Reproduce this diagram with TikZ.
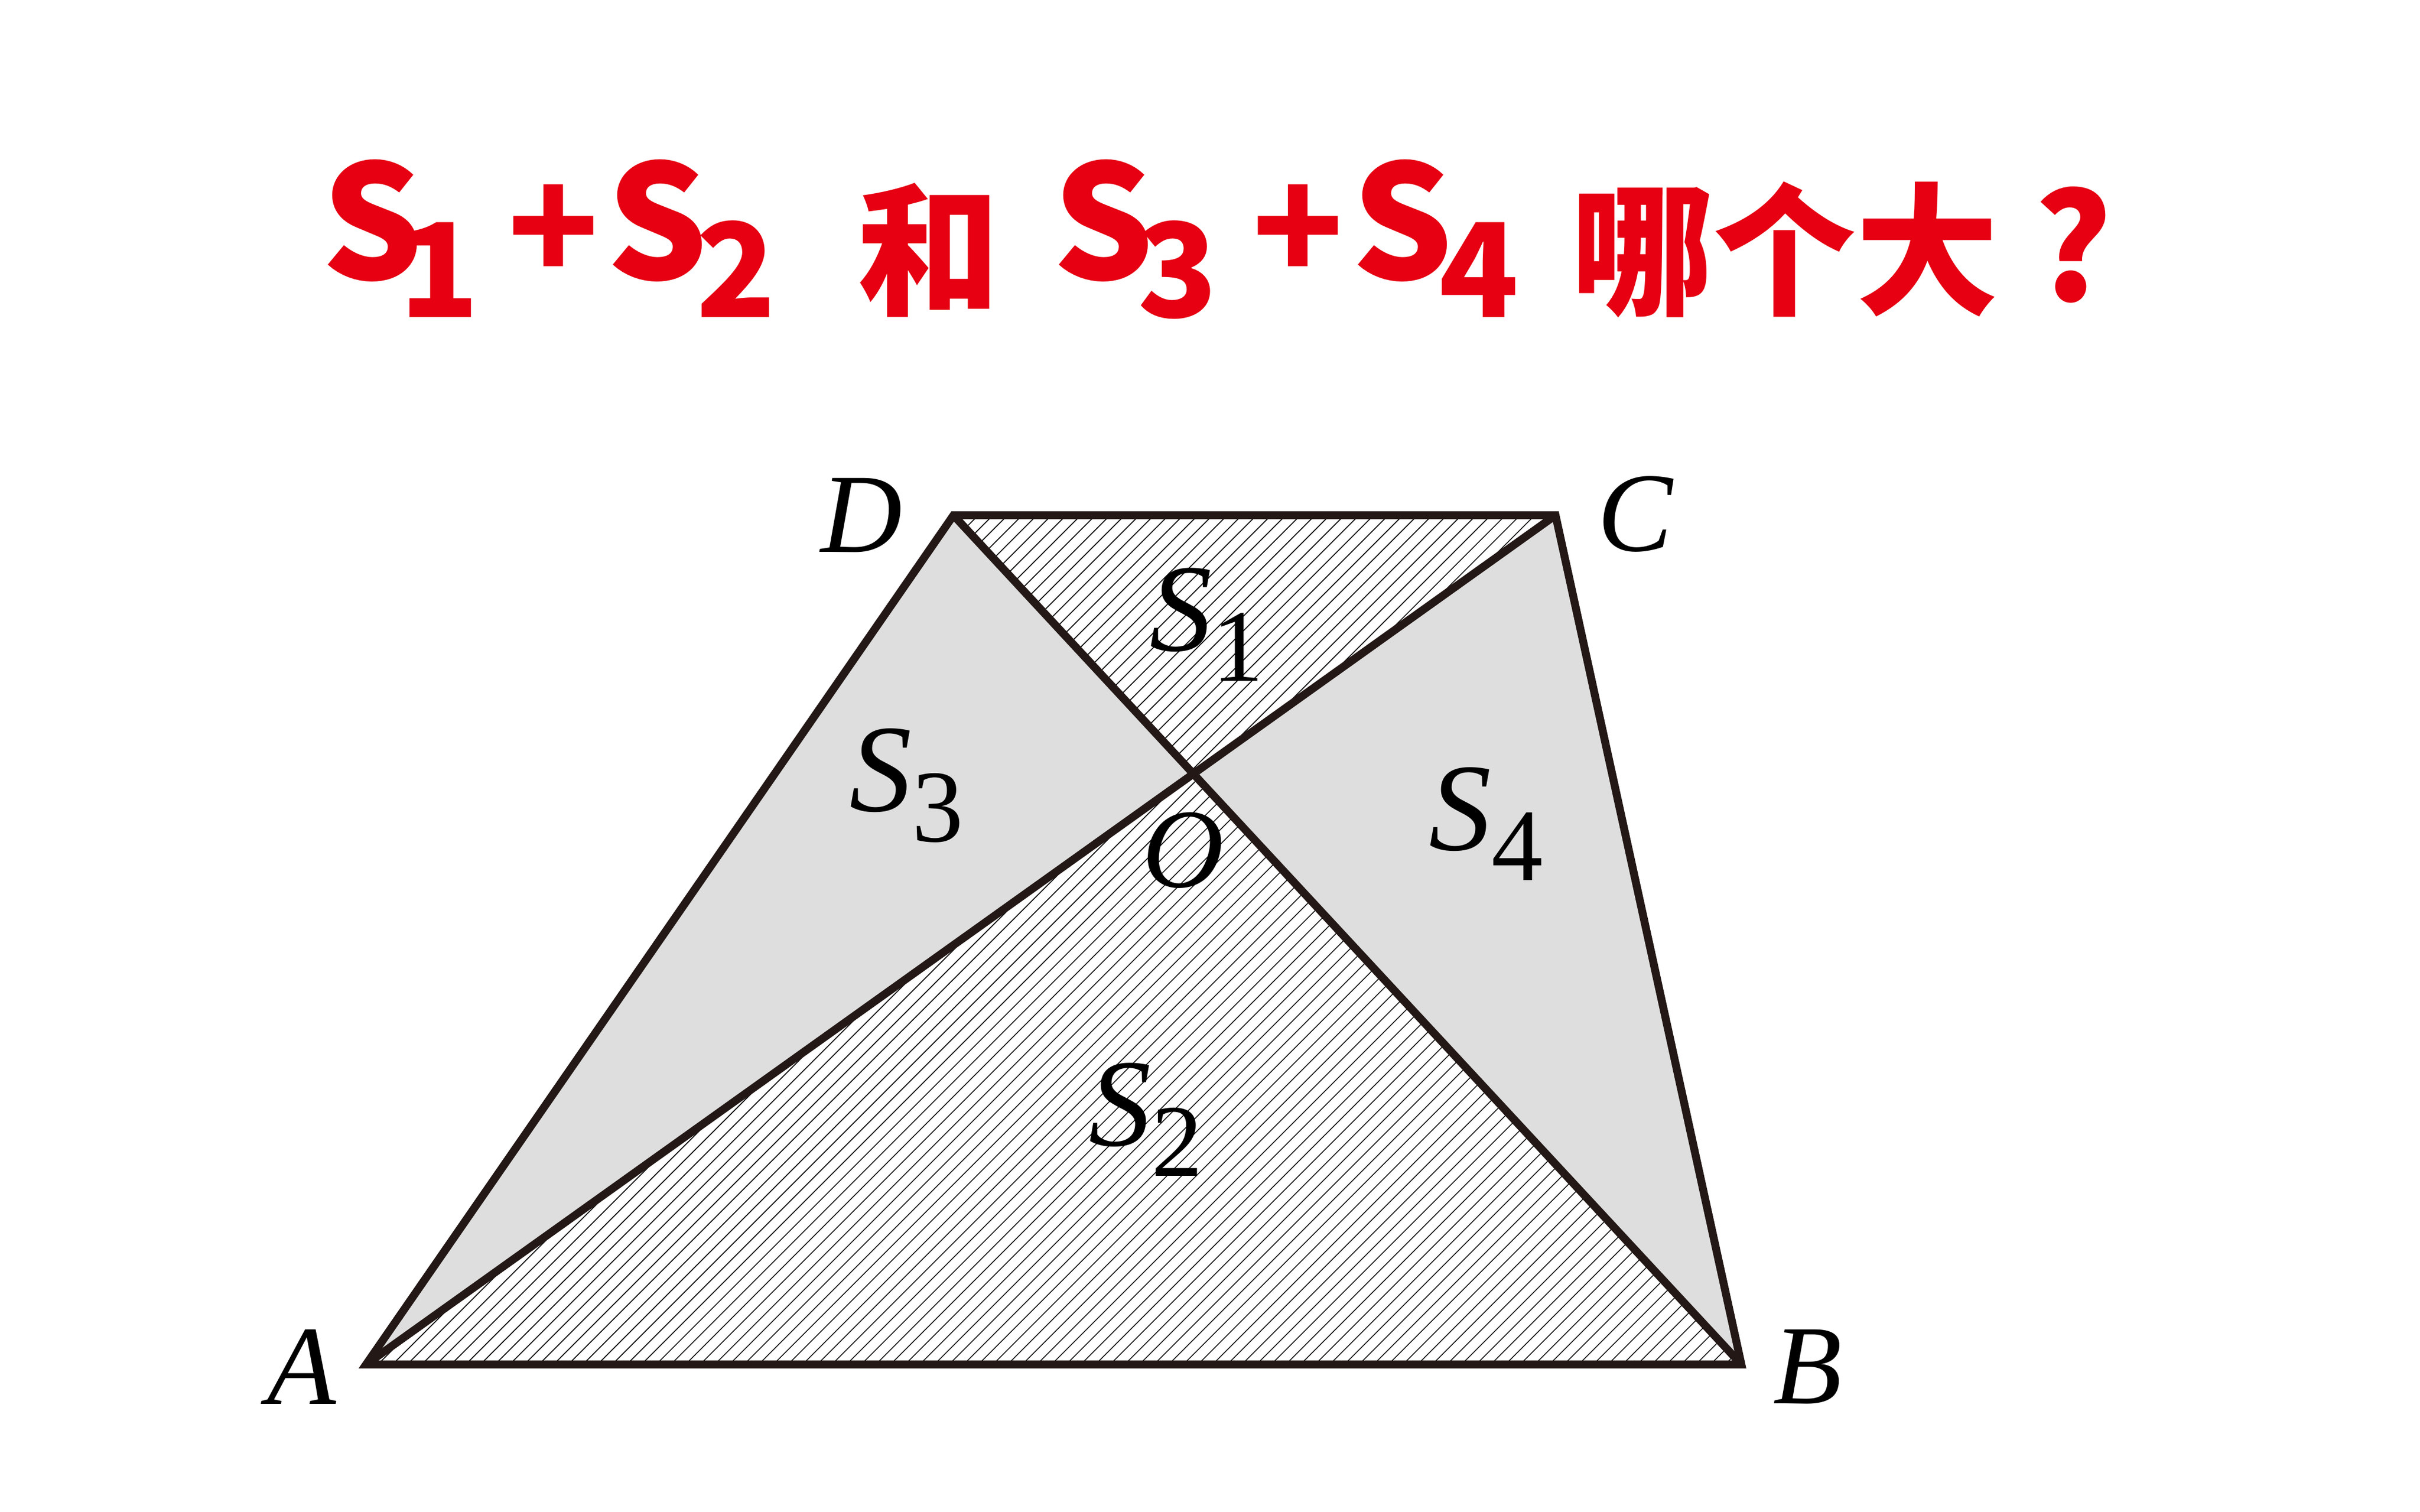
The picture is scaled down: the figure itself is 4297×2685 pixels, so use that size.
\documentclass[tikz,border=0pt]{standalone}
\usepackage{fontspec}
\setmainfont{Liberation Serif}
\newfontfamily\cjk{Noto Sans CJK SC}
\definecolor{titlered}{RGB}{230,0,18}
\definecolor{edgecol}{RGB}{35,24,21}
\definecolor{regiongray}{RGB}{222,222,222}
\newcommand{\fsz}[1]{\fontsize{#1}{#1}\selectfont}
\newcommand{\Slab}[1]{{\itshape\fsz{63pt}S}\lower15.6pt\hbox{\fsz{52pt}#1}}
% title S with subscript: S centred at the node's origin, subscript centred #2 to the right
\newsavebox{\tsS}\newsavebox{\tsN}
\newcommand{\TS}[2]{%
  \sbox{\tsS}{\fsz{80pt}S}%
  \sbox{\tsN}{\fsz{66pt}#1}%
  \kern-0.5\wd\tsS\usebox{\tsS}%
  \kern\dimexpr #2-0.5\wd\tsS-0.5\wd\tsN\relax
  \lower18.8pt\hbox{\usebox{\tsN}}}
\begin{document}
\begin{tikzpicture}[x=0.01cm,y=-0.01cm,
  ttl/.style={inner sep=0pt, text=titlered},
  bigS/.style={ttl, anchor=base west, font=\cjk\bfseries},
  plussign/.style={ttl, anchor=center, font=\cjk\bfseries\fsz{76pt}},
  cjkt/.style={ttl, anchor=center, font=\cjk\bfseries\fsz{72pt}},
  qmark/.style={ttl, anchor=center, font=\cjk\bfseries\fsz{74pt}},
  vlab/.style={inner sep=0pt, anchor=base, font=\itshape\fsz{57pt}},
  slab/.style={inner sep=0pt, anchor=base west},
  edgeline/.style={draw=edgecol, line width=4pt, line join=miter},
  hatchline/.style={draw=black, line width=0.42pt}
]
\useasboundingbox (0,0) rectangle (4297,2685);
\fill[white] (0,0) rectangle (4297,2685);

% title
\node[bigS] (s1) at (661,497) {\TS{1}{33.6pt}};
\node[plussign] (p1) at (983,415) {+};
\node[bigS] (s2) at (1167,497) {\TS{2}{39.6pt}};
\node[cjkt] (he) at (1649,444) {和};
\node[bigS] (s3) at (1959,497) {\TS{3}{37.3pt}};
\node[plussign] (p2) at (2305,415) {+};
\node[bigS] (s4) at (2490,497) {\TS{4}{38.4pt}};
\node[cjkt] (which) at (3169,443) {哪个大};
\node[qmark] (qm) at (3681,435) {?};

% geometry
\coordinate (A) at (650,2423);
\coordinate (B) at (3092,2423);
\coordinate (C) at (2762,915);
\coordinate (D) at (1693,915);
\coordinate (O) at (intersection of A--C and B--D);

\fill[regiongray] (A) -- (O) -- (D) -- cycle;
\fill[regiongray] (B) -- (O) -- (C) -- cycle;

\begin{scope}
  \clip (D) -- (O) -- (C) -- cycle;
  \foreach \c in {2392,2418,...,3718} \draw[hatchline] (\c,0) -- (\c-2685,2685);
\end{scope}
\begin{scope}
  \clip (A) -- (O) -- (B) -- cycle;
  \foreach \c in {3016,3042,...,5540} \draw[hatchline] (\c,0) -- (\c-2685,2685);
\end{scope}

\draw[edgeline] (A) -- (B) -- (C) -- (D) -- cycle;
\draw[edgeline] (A) -- (C);
\draw[edgeline] (B) -- (D);

% vertex labels
\node[vlab] (lA) at (536,2493) {A};
\node[vlab] (lB) at (3210,2492) {B};
\node[vlab] (lC) at (2903,978) {C};
\node[vlab] (lD) at (1530,980) {D};
\node[vlab] (lO) at (2101,1575) {O};

% region labels
\node[slab] (S1) at (2041,1155) {\Slab{1}};
\node[slab] (S2) at (1933,2034) {\Slab{2}};
\node[slab] (S3) at (1508,1440) {\Slab{3}};
\node[slab] (S4) at (2537,1509) {\Slab{4}};
\end{tikzpicture}
\end{document}
